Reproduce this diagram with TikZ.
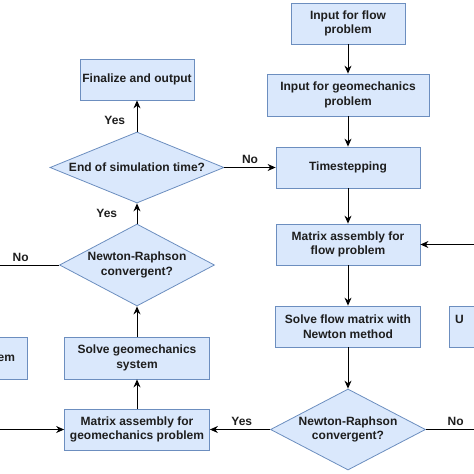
\documentclass[tikz,border=0pt]{standalone}
\usepackage{fontspec}
\setmainfont{Liberation Sans}
\usepackage{xcolor}
\usetikzlibrary{arrows.meta,shapes.geometric}

\definecolor{boxfill}{HTML}{DAE8FC}
\definecolor{boxline}{HTML}{6C8EBF}
\definecolor{ink}{HTML}{1E1E1E}

\begin{document}
\begin{tikzpicture}[x=1pt,y=-1pt,font=\bfseries\fontsize{12}{14.5}\selectfont,text=ink]
\useasboundingbox (0,0) rectangle (474,474);
\begin{scope}[every node/.style={rectangle,draw=boxline,fill=boxfill,line width=0.8pt,
                                 align=center,inner sep=0pt,minimum height=41pt}]
    \node[minimum width=114pt] (inflow) at (348,23.5) {Input for flow\\problem};
    \node[minimum width=162pt,minimum height=42pt] (ingeo) at (348,95) {Input for geomechanics\\problem};
    \node[minimum width=144pt] (timestep) at (348,167.5) {Timestepping};
    \node[minimum width=144pt] (matf) at (348,244.5) {Matrix assembly for\\flow problem};
    \node[minimum width=145pt] (solvef) at (348,326.5) {Solve flow matrix with\\Newton method};
    \node[minimum width=114pt] (fin) at (137,79.5) {Finalize and output};
    \node[minimum width=145pt,minimum height=42pt] (solveg) at (137,358) {Solve geomechanics\\system};
    \node[minimum width=145pt] (matg) at (137,429.5) {Matrix assembly for\\geomechanics problem};
    \node[minimum width=94pt,minimum height=42pt,text width=70pt,align=right] (leftbox) at (-20,358) {em};
    \node[minimum width=100pt,text width=88pt,align=left] (rightbox) at (499,326.5) {U\\~};
\end{scope}
\begin{scope}[every node/.style={diamond,draw=boxline,fill=boxfill,line width=0.8pt,
                                 align=center,inner sep=0pt}]
    \node[shape aspect=2.5,minimum width=174pt,minimum height=71pt] (endsim) at (137,167.5) {End of simulation time?};
    \node[shape aspect=1.9,minimum width=155pt,minimum height=82pt] (nrl) at (137,265) {Newton-Raphson\\convergent?};
    \node[shape aspect=1.9,minimum width=155pt,minimum height=81pt] (nrr) at (348,429.5) {Newton-Raphson\\convergent?};
\end{scope}
\coordinate (leftno) at (0,265);
\coordinate (leftin) at (0,429.5);
\coordinate (rightin) at (474,244.5);
\coordinate (rightno) at (474,429.5);
\begin{scope}[>={Stealth[length=8pt,width=7pt]},
              every edge/.style={draw=black,line width=1pt}]
    \path [->] (inflow) edge (ingeo);
    \path [->] (ingeo) edge (timestep);
    \path [->] (timestep) edge (matf);
    \path [->] (matf) edge (solvef);
    \path [->] (solvef) edge (nrr);
    \path [->] (nrr) edge node[above,pos=0.47] {Yes} (matg);
    \path [-] (nrr) edge node[above,pos=0.62] {No} (rightno);
    \path [->] (rightin) edge (matf);
    \path [->] (leftin) edge (matg);
    \path [->] (matg) edge (solveg);
    \path [->] (solveg) edge (nrl);
    \path [-] (nrl) edge node[above,pos=0.65] {No} (leftno);
    \path [->] (nrl) edge node[left=16pt] {Yes} (endsim);
    \path [->] (endsim) edge node[above] {No} (timestep);
    \path [->] (endsim) edge node[left=8pt,pos=0.35] {Yes} (fin);
\end{scope}
\end{tikzpicture}
\end{document}
